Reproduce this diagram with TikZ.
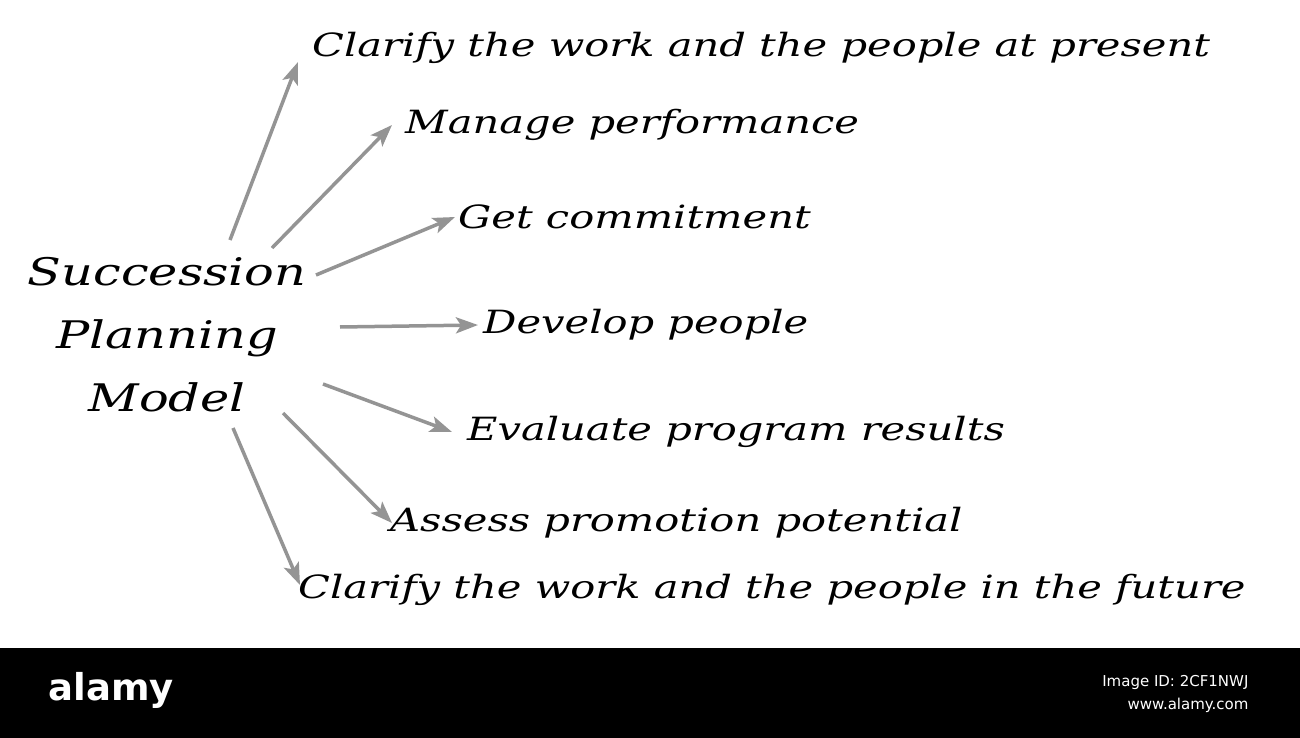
\documentclass[tikz,border=0pt]{standalone}
\usepackage{fontspec}
\setmainfont{DejaVu Serif}
\setsansfont{DejaVu Sans}
\usepackage{graphicx}
\usetikzlibrary{arrows.meta}
\newcommand{\hw}[1]{\scalebox{1.3}[1]{\itshape #1}}
\begin{document}
\begin{tikzpicture}[x=1pt,y=-1pt,
  arr/.style={draw=black!42,line width=3.5pt,-{Stealth[length=22pt,width=16pt,inset=5pt]}},
  lbl/.style={anchor=west,inner sep=0pt,font=\fontsize{32}{32}\selectfont},
  hub/.style={align=center,inner sep=0pt,font=\fontsize{38}{63}\selectfont}]
\useasboundingbox (0,0) rectangle (1300,738);
\fill[white] (0,0) rectangle (1300,648);
\fill[black] (0,648) rectangle (1300,738);
\node[hub] (c) at (167,335) {\hw{Succession}\\\hw{Planning}\\\hw{Model}};
\node[lbl] (l1) at (312,48) {\hw{Clarify the work and the people at present}};
\node[lbl] (l2) at (405,125) {\hw{Manage performance}};
\node[lbl] (l3) at (458,217) {\hw{Get commitment}};
\node[lbl] (l4) at (483,325) {\hw{Develop people}};
\node[lbl] (l5) at (467,432) {\hw{Evaluate program results}};
\node[lbl] (l6) at (390,523) {\hw{Assess promotion potential}};
\node[lbl] (l7) at (298,590) {\hw{Clarify the work and the people in the future}};
\foreach \i/\sx/\sy/\ex/\ey in {1/230/240/298/62,2/272/248/392/125,3/316/275/455/217,4/340/327/478/325,5/323/384/452/432,6/283/413/392/523,7/233/428/300/585}{
  \coordinate (s\i) at (\sx,\sy); \coordinate (e\i) at (\ex,\ey);
  \draw[arr] (s\i) -- (e\i);}
\node[white,font=\sffamily\bfseries\fontsize{37}{37}\selectfont,anchor=west] (al) at (45,690) {alamy};
\node[white,font=\sffamily\fontsize{15}{15}\selectfont,anchor=east] (id) at (1252,682) {Image ID: 2CF1NWJ};
\node[white,font=\sffamily\fontsize{15}{15}\selectfont,anchor=east] (www) at (1252,705) {www.alamy.com};
\end{tikzpicture}
\end{document}
